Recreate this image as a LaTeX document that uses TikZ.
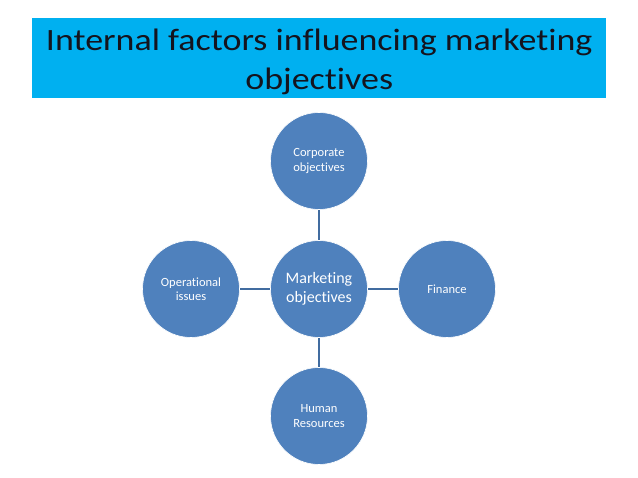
\documentclass[tikz,border=0pt]{standalone}
\usepackage{fontspec}
\setmainfont{Carlito}[Ligatures=NoCommon]
\definecolor{titlebg}{RGB}{0,176,240}
\definecolor{circfill}{RGB}{79,129,189}
\definecolor{linec}{RGB}{65,108,160}
\definecolor{titletext}{RGB}{20,20,30}
\begin{document}
\begin{tikzpicture}[x=1pt,y=-1pt,
  bubble/.style={circle,fill=circfill,draw=white,line width=0.6pt,minimum size=97pt,inner sep=0pt,text=white,align=center,font=\fontsize{12.5}{14.5}\selectfont},
  bigbubble/.style={bubble,font=\fontsize{16}{18.5}\selectfont},
  link/.style={draw=linec,line width=1.3pt}]
\useasboundingbox (0,0) rectangle (638,478);
\fill[white] (0,0) rectangle (638,478);
\node[fill=titlebg,minimum width=574pt,minimum height=80pt,inner sep=0pt,anchor=north west] (titlebar) at (32,18) {};
\node[align=center,inner sep=0pt,text=titletext,font=\fontsize{31}{39}\selectfont] (title) at ([yshift=-4pt]titlebar.center) {\scalebox{1.16}[1]{Internal factors influencing marketing}\\\scalebox{1.16}[1]{objectives}};
\node[bigbubble] (m) at (319,289) {Marketing\\objectives};
\node[bubble] (c) at (319,161) {Corporate\\objectives};
\node[bubble] (o) at (191,289) {Operational\\issues};
\node[bubble] (f) at (447,289) {Finance};
\node[bubble] (h) at (319,416) {Human\\Resources};
\draw[link] (m) -- (c);
\draw[link] (m) -- (o);
\draw[link] (m) -- (f);
\draw[link] (m) -- (h);
\end{tikzpicture}
\end{document}
